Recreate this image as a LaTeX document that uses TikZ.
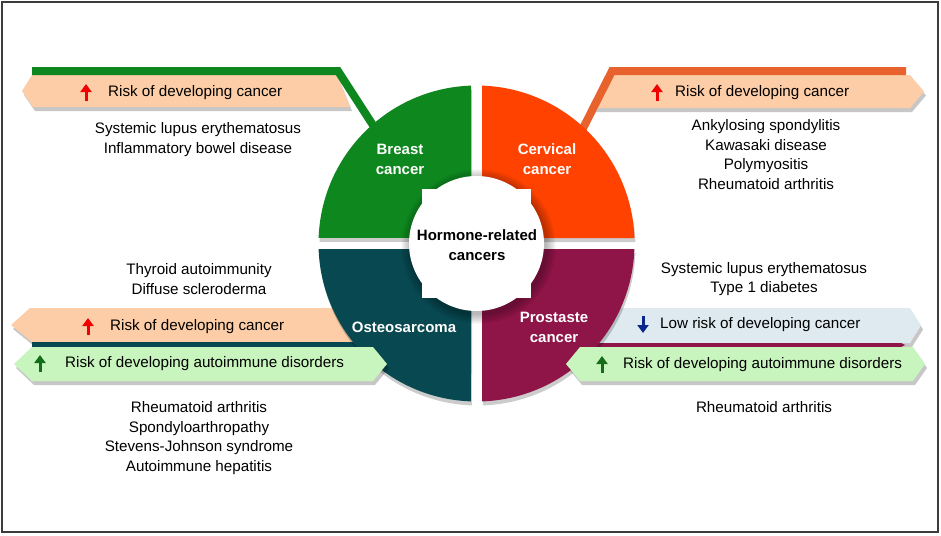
\documentclass[tikz,border=0pt]{standalone}
\usepackage{fontspec}
\setmainfont{Liberation Sans}
\usetikzlibrary{arrows.meta,shadows,calc}
\definecolor{qgreen}{RGB}{14,135,30}
\definecolor{qred}{RGB}{255,66,0}
\definecolor{qteal}{RGB}{8,72,80}
\definecolor{qmaroon}{RGB}{143,20,72}
\definecolor{lorange}{RGB}{232,98,46}
\definecolor{peach}{RGB}{252,205,166}
\definecolor{lgreen}{RGB}{200,244,190}
\definecolor{lblue}{RGB}{222,234,240}
\definecolor{framecol}{RGB}{60,60,60}
\definecolor{agreen}{RGB}{20,110,25}
\definecolor{ablue}{RGB}{10,40,140}
\definecolor{ared}{RGB}{240,0,0}
\begin{document}
\begin{tikzpicture}[x=1pt,y=-1pt,
  txt/.style={font=\fontsize{15.2}{19.6}\selectfont, align=center, inner sep=0pt, text=black},
  bantxt/.style={font=\fontsize{15.2}{19.6}\selectfont, anchor=west, inner sep=0pt, text=black},
  qlbl/.style={font=\bfseries\fontsize{15}{20}\selectfont, align=center, inner sep=0pt, text=white},
  ban/.style={drop shadow={shadow xshift=2pt, shadow yshift=-4pt, opacity=0.22, fill=black}},
  qsh/.style={drop shadow={shadow xshift=1pt, shadow yshift=-4pt, opacity=0.2, fill=black}},
  arr/.style={line width=3pt, -{Triangle[width=11pt,length=8pt]}},
  band/.style={line width=8pt, line join=miter}
]
\useasboundingbox (0,0) rectangle (941,535);
\fill[white] (0,0) rectangle (941,535);
\draw[framecol, line width=1.5pt] (2,2) rectangle (938,532);

\coordinate (C) at (476.5,243.5);

% ---- banners beneath the quadrants ----
% top-left
\fill[peach, ban] (32,75) -- (337,75) -- (350,107) -- (33,107) -- (22,91) -- cycle;
\draw[qgreen, band] (32,71) -- (338,71) -- (389,150);
% top-right
\fill[peach, ban] (611,75) -- (910,75) -- (924,91.5) -- (910,108) -- (594,108) -- cycle;
\draw[lorange, band] (567,160) -- (612,71) -- (906,71);
% bottom-left peach + teal strip
\fill[peach, ban] (30,308) -- (440,308) -- (440,342) -- (32,342) -- (11,325) -- cycle;
\fill[qteal] (32,342) -- (440,342) -- (440,347) -- (32,347) -- cycle;
% bottom-right blue + maroon strip
\fill[lblue, ban] (520,308) -- (910,308) -- (921,325.5) -- (910,343) -- (520,343) -- cycle;
\fill[qmaroon] (520,343) -- (901,343) -- (905,345) -- (901,347) -- (520,347) -- cycle;

% ---- quadrants ----
\fill[qgreen, qsh] (471,238) -- (471,85.6) arc (268:182:158) -- cycle;
\fill[qred, qsh] (482,238) -- (634.4,238) arc (358:272:158) -- cycle;
\fill[qteal, qsh] (471,249) -- (318.6,249) arc (178:92:158) -- cycle;
\fill[qmaroon, qsh] (482,249) -- (482,401.4) arc (88:2:158) -- cycle;

% ---- banners above the quadrants ----
\fill[lgreen, ban] (32,347) -- (373,347) -- (387,364) -- (373,381) -- (32,381) -- (14,364) -- cycle;
\fill[lgreen, ban] (580,347) -- (913,347) -- (925,364) -- (913,381) -- (580,381) -- (566,364) -- cycle;

% ---- centre shape with soft shadow ----
\foreach \r in {69,71,73,75,77}{\fill[black, opacity=0.06] ($(C)+(2,3)$) circle (\r);}
\fill[white] (C) circle (67.5);
\fill[white] (422,189) rectangle (531,298);

% ---- quadrant labels ----
\node[qlbl] (breast) at (400,159) {Breast\\cancer};
\node[qlbl] (cervical) at (547,159) {Cervical\\cancer};
\node[qlbl] (osteo) at (404,327) {Osteosarcoma};
\node[qlbl] (prostate) at (554,327) {Prostaste\\cancer};
\node[qlbl, text=black] (centre) at (477,245) {Hormone-related\\cancers};

% ---- banner texts and arrows ----
\draw[arr, ared] (86,101) -- (86,84);
\node[bantxt] (tlrisk) at (108,93) {Risk of developing cancer};
\draw[arr, ared] (657,101) -- (657,84);
\node[bantxt] (trrisk) at (675,93) {Risk of developing cancer};
\draw[arr, ared] (88,335) -- (88,318);
\node[bantxt] (blrisk) at (110,327) {Risk of developing cancer};
\draw[arr, agreen] (40,372) -- (40,355);
\node[bantxt] (blauto) at (65,364) {Risk of developing autoimmune disorders};
\draw[arr, ablue] (643,316) -- (643,333);
\node[bantxt] (brlow) at (660,325) {Low risk of developing cancer};
\draw[arr, agreen] (602,373) -- (602,356);
\node[bantxt] (brauto) at (623,365) {Risk of developing autoimmune disorders};

% ---- lists ----
\node[txt] (tllist) at (198,139.5) {Systemic lupus erythematosus\\Inflammatory bowel disease};
\node[txt] (trlist) at (766,154.5) {Ankylosing spondylitis\\Kawasaki disease\\Polymyositis\\Rheumatoid arthritis};
\node[txt] (bltop) at (199,279) {Thyroid autoimmunity\\Diffuse scleroderma};
\node[txt] (blbot) at (199,438) {Rheumatoid arthritis\\Spondyloarthropathy\\Stevens-Johnson syndrome\\Autoimmune hepatitis};
\node[txt] (brtop) at (764,279) {Systemic lupus erythematosus\\Type 1 diabetes};
\node[txt] (brbot) at (764,407) {Rheumatoid arthritis};
\end{tikzpicture}
\end{document}
